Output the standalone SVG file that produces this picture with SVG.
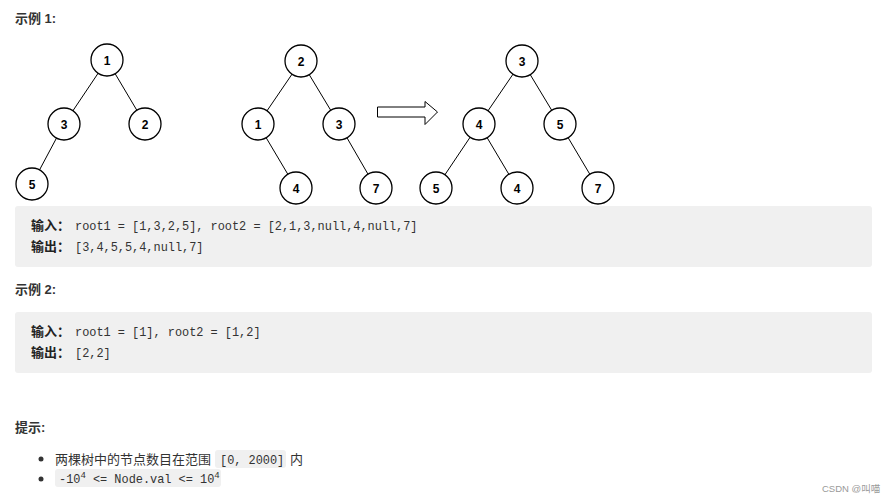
<svg xmlns="http://www.w3.org/2000/svg" width="888" height="502" viewBox="0 0 888 502">
<style>
.n circle{fill:#fff;stroke:#000;stroke-width:1.3}
.n text{font-family:"Liberation Sans",Arial,sans-serif;font-weight:bold;font-size:12px;text-anchor:middle;fill:#000}
.e line{stroke:#000;stroke-width:1}
.h{font-family:"Liberation Sans","Noto Sans CJK SC",sans-serif;font-weight:bold;font-size:13px;fill:#333}
.lb{font-family:"Liberation Sans","Noto Sans CJK SC",sans-serif;font-weight:bold;font-size:13px;fill:#222}
.code{font-family:"Liberation Mono","DejaVu Sans Mono",monospace;font-size:11.9px;fill:#333}
.box{fill:#f0f0f0}
.t{font-family:"Liberation Sans","Noto Sans CJK SC",sans-serif;font-size:13px;fill:#333}
</style>
<rect width="888" height="502" fill="#fff"/>
<text class="h" x="15" y="23">示例 1:</text>
<g class="e" id="connectors">
<line x1="107" y1="60" x2="64" y2="124"/>
<line x1="107" y1="60" x2="145" y2="124"/>
<line x1="64" y1="124" x2="32" y2="184"/>
<line x1="301" y1="61" x2="258" y2="124"/>
<line x1="301" y1="61" x2="339" y2="124"/>
<line x1="258" y1="124" x2="296" y2="188"/>
<line x1="339" y1="124" x2="376" y2="188"/>
<line x1="522" y1="61" x2="479" y2="124"/>
<line x1="522" y1="61" x2="560" y2="124"/>
<line x1="479" y1="124" x2="436" y2="188"/>
<line x1="479" y1="124" x2="517" y2="188"/>
<line x1="560" y1="124" x2="598" y2="188"/>
</g>
<g class="n" id="t1n1"><circle cx="107" cy="60" r="16"/><text x="107" y="64.5">1</text></g>
<g class="n" id="t1n3"><circle cx="64" cy="124" r="16"/><text x="64" y="128.5">3</text></g>
<g class="n" id="t1n2"><circle cx="145" cy="124" r="16"/><text x="145" y="128.5">2</text></g>
<g class="n" id="t1n5"><circle cx="32" cy="184" r="16"/><text x="32" y="188.5">5</text></g>
<g class="n" id="t2n2"><circle cx="301" cy="61" r="16"/><text x="301" y="65.5">2</text></g>
<g class="n" id="t2n1"><circle cx="258" cy="124" r="16"/><text x="258" y="128.5">1</text></g>
<g class="n" id="t2n3"><circle cx="339" cy="124" r="16"/><text x="339" y="128.5">3</text></g>
<g class="n" id="t2n4"><circle cx="296" cy="188" r="16"/><text x="296" y="192.5">4</text></g>
<g class="n" id="t2n7"><circle cx="376" cy="188" r="16"/><text x="376" y="192.5">7</text></g>
<g class="n" id="t3n3"><circle cx="522" cy="61" r="16"/><text x="522" y="65.5">3</text></g>
<g class="n" id="t3n4"><circle cx="479" cy="124" r="16"/><text x="479" y="128.5">4</text></g>
<g class="n" id="t3n5"><circle cx="560" cy="124" r="16"/><text x="560" y="128.5">5</text></g>
<g class="n" id="t3n5b"><circle cx="436" cy="188" r="16"/><text x="436" y="192.5">5</text></g>
<g class="n" id="t3n4b"><circle cx="517" cy="188" r="16"/><text x="517" y="192.5">4</text></g>
<g class="n" id="t3n7"><circle cx="598" cy="188" r="16"/><text x="598" y="192.5">7</text></g>
<g id="arrow"><polygon points="377.5,107 425,107 425,101.5 437.5,112 425,124.5 425,117 377.5,117" fill="#fff" stroke="#000" stroke-width="1"/></g>
<rect class="box" x="15" y="206" width="857" height="61" rx="3"/>
<text class="lb" x="31" y="230">输入：</text>
<text class="code" x="75" y="230">root1 = [1,3,2,5], root2 = [2,1,3,null,4,null,7]</text>
<text class="lb" x="31" y="251">输出：</text>
<text class="code" x="75" y="251">[3,4,5,5,4,null,7]</text>
<text class="h" x="15" y="294">示例 2:</text>
<rect class="box" x="15" y="312" width="857" height="61" rx="3"/>
<text class="lb" x="31" y="336">输入：</text>
<text class="code" x="75" y="336">root1 = [1], root2 = [1,2]</text>
<text class="lb" x="31" y="357">输出：</text>
<text class="code" x="75" y="357">[2,2]</text>
<text class="h" x="15" y="432">提示:</text>
<circle cx="41" cy="459" r="2.5" fill="#333"/>
<circle cx="41" cy="479" r="2.5" fill="#333"/>
<text class="t" x="55" y="464">两棵树中的节点数目在范围</text>
<rect class="box" x="215" y="450" width="71" height="18" rx="3"/>
<text class="code" x="220" y="464" fill="#555">[0, 2000]</text>
<text class="t" x="290" y="464">内</text>
<rect class="box" x="55" y="469" width="166" height="18" rx="3"/>
<text class="code" x="59" y="483" fill="#555">-10<tspan font-size="9" dy="-5">4</tspan><tspan dy="5"> &lt;= Node.val &lt;= 10</tspan><tspan font-size="9" dy="-5">4</tspan></text>
<text x="822" y="492" font-family="Liberation Sans,'Noto Sans CJK SC',sans-serif" font-size="9.5" fill="#999">CSDN @叫喵</text>
</svg>
